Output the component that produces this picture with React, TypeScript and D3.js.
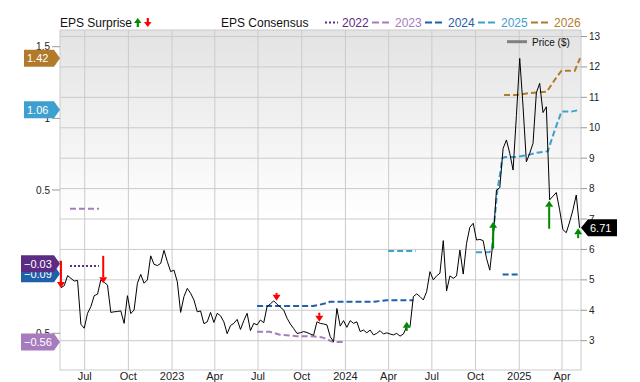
import React from 'react';
import * as d3 from 'd3';

// ---------------- DATA ----------------
const priceStart = '2022-05-12'; // weekly closes
const priceValues = [
  4.74, 4.81, 5.14, 5.05, 4.96, 4.98, 3.54, 3.41, 3.90, 4.12,
  4.48, 4.53, 5.00, 4.92, 4.83, 3.93, 3.95, 3.96, 3.98, 3.57,
  4.48, 3.89, 4.01, 4.89, 5.18, 4.89, 5.00, 5.79, 5.51, 5.47,
  5.54, 5.97, 5.60, 5.27, 5.32, 4.94, 3.93, 4.45, 4.72, 4.56,
  4.34, 3.95, 3.98, 3.56, 3.62, 3.93, 3.60, 3.90, 3.82, 3.62,
  3.23, 3.50, 3.57, 3.70, 3.37, 3.66, 3.90, 3.33, 3.57, 3.52,
  3.68, 3.59, 4.12, 4.21, 4.31, 4.20, 4.10, 4.01, 3.74, 3.55,
  3.40, 3.24, 3.26, 3.30, 3.27, 3.22, 3.18, 3.62, 3.57, 3.55,
  3.52, 3.13, 2.97, 4.06, 3.48, 3.66, 3.44, 3.66, 3.57, 3.62,
  3.30, 3.35, 3.26, 3.35, 3.19, 3.24, 3.33, 3.22, 3.26, 3.22,
  3.19, 3.24, 3.15, 3.22, 3.46, 3.46, 4.45, 4.54, 4.45, 4.34,
  4.61, 5.27, 5.00, 5.13, 5.22, 6.29, 4.64, 5.13, 5.05, 5.13,
  5.98, 5.19, 6.20, 6.73, 6.86, 6.31, 6.33, 6.29, 5.71, 5.32,
  6.30, 7.95, 8.03, 9.32, 9.60, 9.16, 8.61, 10.40, 12.28, 10.69,
  8.88, 9.16, 9.49, 11.15, 11.46, 10.50, 10.69, 7.63, 7.75, 7.87,
  7.30, 6.65, 6.55, 6.90, 7.30, 7.79, 6.71,
];
const lastPrice = 6.71;

const cons2022Dates = ['2022-05-31', '2022-07-31'];
const cons2022Values: (number | null)[] = [-0.03, -0.03];

const cons2023Dates = ['2022-05-31', '2022-07-31', '2022-08-01',
  '2023-06-29', '2023-07-26', '2023-08-16', '2023-09-20', '2023-10-25', '2023-11-15', '2023-11-29', '2023-12-07', '2023-12-30'];
const cons2023Values: (number | null)[] = [0.37, 0.37, null,
  -0.49, -0.49, -0.51, -0.52, -0.52, -0.53, -0.55, -0.56, -0.56];

const cons2024Dates = ['2023-06-29', '2023-10-25', '2023-11-08', '2023-11-22', '2023-11-29', '2024-02-29', '2024-03-28', '2024-05-23', '2024-05-24',
  '2024-11-27', '2024-12-29'];
const cons2024Values: (number | null)[] = [-0.31, -0.31, -0.30, -0.29, -0.28, -0.28, -0.27, -0.27, null,
  -0.09, -0.09];

const cons2025Dates = ['2024-03-31', '2024-05-28', '2024-05-29',
  '2024-10-02', '2024-10-30', '2024-11-04', '2024-11-09', '2024-11-16', '2024-11-23', '2024-11-26', '2024-12-02', '2024-12-23',
  '2025-01-20', '2025-02-07', '2025-03-02', '2025-03-17', '2025-03-31', '2025-04-21', '2025-05-09'];
const cons2025Values: (number | null)[] = [0.075, 0.075, null,
  0.066, 0.066, 0.08, 0.26, 0.50, 0.64, 0.72, 0.73, 0.73,
  0.745, 0.76, 0.77, 0.92, 1.047, 1.047, 1.06];

const cons2026Dates = ['2024-11-30', '2024-12-26', '2025-01-20', '2025-02-28', '2025-03-17', '2025-03-31', '2025-04-28', '2025-05-09'];
const cons2026Values: (number | null)[] = [1.163, 1.163, 1.175, 1.186, 1.27, 1.333, 1.333, 1.42];

const seriesYears = ['2022', '2023', '2024', '2025', '2026'];
const seriesColors = ['#5b2c83', '#a67cbf', '#1f60ab', '#3ea0cf', '#b27b2c'];
const seriesDash = ['2,2', '6,3', '6,3', '6,3', '6,3'];
const seriesDates = [cons2022Dates, cons2023Dates, cons2024Dates, cons2025Dates, cons2026Dates];
const seriesValues = [cons2022Values, cons2023Values, cons2024Values, cons2025Values, cons2026Values];
const seriesLast = [-0.03, -0.56, -0.09, 1.06, 1.42];

const surpriseDates = ['2022-05-12', '2022-08-09', '2023-08-09', '2023-11-07', '2024-05-09', '2024-11-07', '2025-03-05', '2025-05-05'];
const surpriseTips = [4.73, 4.89, 4.31, 3.62, 3.62, 6.91, 7.60, 6.70];
const surpriseSizes = [-0.9, -0.9, -0.26, -0.3, 0.3, 0.88, 0.92, 0.33];

const epsTicks = [-0.5, 0, 0.5, 1, 1.5];
const priceTicks = [3, 4, 5, 6, 7, 8, 9, 10, 11, 12, 13];

// ---------------- CHART ----------------
const W = 640;
const H = 382;
const L = 60, R = 581, T = 30, B = 370;
const FONT = 'Liberation Sans, Arial, Helvetica, sans-serif';

export default function App() {
  const parse = d3.timeParse('%Y-%m-%d');
  const x = d3.scaleTime().domain([parse('2022-05-10')!, parse('2025-05-11')!]).range([L, R]);
  const yP = d3.scaleLinear().domain([3, 13]).range([340.7, 36.5]);
  const yE = d3.scaleLinear().domain([-0.5, 1.5]).range([333.3, 46.7]);

  const start = parse(priceStart)!;
  const priceData = priceValues.map((v, i) => ({ d: d3.timeDay.offset(start, 7 * i), v }));
  const priceLine = d3.line<{ d: Date; v: number }>().x(p => x(p.d)).y(p => yP(p.v));

  const consLine = d3.line<{ d: Date; v: number | null }>()
    .defined(p => p.v !== null)
    .x(p => x(p.d))
    .y(p => yE(p.v as number));

  const xTicks = x.ticks(d3.timeMonth.every(3)!);
  const fmtTick = (d: Date) => (d.getMonth() === 0 ? d3.timeFormat('%Y')(d) : d3.timeFormat('%b')(d));

  // left tags with simple collision avoidance
  const tagH = 17;
  const tags = seriesYears.map((yr, i) => ({ i, v: seriesLast[i], y: yE(seriesLast[i]), color: seriesColors[i] }));
  const sorted = [...tags].sort((a, b) => a.y - b.y);
  for (let k = 1; k < sorted.length; k++) {
    const gap = sorted[k].y - sorted[k - 1].y;
    const minGap = 10;
    if (gap < minGap) {
      const shift = (minGap - gap) / 2;
      sorted[k - 1].y -= shift + 1.5;
      sorted[k].y += shift - 1.5;
    }
  }
  const drawOrder = [2, 4, 3, 1, 0].map(i => tags[i]);
  const fmt2 = d3.format('.2f');

  const tagPath = (x0: number, x1: number, yc: number) =>
    `M${x0},${yc - tagH / 2}H${x1 - 6}L${x1},${yc}L${x1 - 6},${yc + tagH / 2}H${x0}Z`;

  const lastY = yP(lastPrice);

  return (
    <svg width={W} height={H} style={{ position: 'absolute', left: 0, top: 0, background: '#fff' }} fontFamily={FONT}>
      <defs>
        <linearGradient id="bg" x1="0" y1="0" x2="0" y2="1">
          <stop offset="0" stopColor="#e3e3e3" />
          <stop offset="0.55" stopColor="#ffffff" />
          <stop offset="1" stopColor="#ffffff" />
        </linearGradient>
        <clipPath id="plot">
          <rect x={L} y={T} width={R - L} height={B - T} />
        </clipPath>
      </defs>

      <rect x={L} y={T} width={R - L} height={B - T} fill="url(#bg)" />

      {/* grid */}
      {priceTicks.map(t => (
        <line key={'hg' + t} x1={L} x2={R} y1={yP(t)} y2={yP(t)} stroke="#cbcbcb" strokeWidth={1} />
      ))}
      {xTicks.map(t => (
        <line key={'vg' + t.getTime()} x1={x(t)} x2={x(t)} y1={T} y2={B} stroke="#cbcbcb" strokeWidth={1} />
      ))}
      <rect x={L} y={T} width={R - L} height={B - T} fill="none" stroke="#cbcbcb" strokeWidth={1} />

      {/* consensus lines */}
      <g clipPath="url(#plot)">
        {seriesYears.map((yr, i) => {
          const data = seriesDates[i].map((d, j) => ({ d: parse(d)!, v: seriesValues[i][j] }));
          return (
            <path key={'c' + yr} d={consLine(data) || ''} fill="none" stroke={seriesColors[i]}
              strokeWidth={2} strokeDasharray={seriesDash[i]} />
          );
        })}
        {/* price */}
        <path d={priceLine(priceData) || ''} fill="none" stroke="#000" strokeWidth={1} />
      </g>

      {/* surprise arrows */}
      {surpriseDates.map((ds, i) => {
        const xx = x(parse(ds)!);
        const tipY = yP(surpriseTips[i]);
        const baseY = yP(surpriseTips[i] - surpriseSizes[i]);
        const up = surpriseSizes[i] > 0;
        const col = up ? '#008a00' : '#ff0000';
        const hh = 6;
        const hw = 4;
        const neck = up ? tipY + hh : tipY - hh;
        return (
          <g key={'s' + i}>
            <line x1={xx} x2={xx} y1={baseY} y2={neck} stroke={col} strokeWidth={2} />
            <path d={`M${xx - hw},${neck}L${xx + hw},${neck}L${xx},${tipY}Z`} fill={col} />
          </g>
        );
      })}

      {/* right axis */}
      {priceTicks.map(t => (
        <g key={'rt' + t}>
          <line x1={R} x2={R + 6} y1={yP(t)} y2={yP(t)} stroke="#999" />
          <text x={R + 8} y={yP(t)} dy="0.35em" fontSize={10} fill="#222">{t}</text>
        </g>
      ))}

      {/* left axis */}
      {epsTicks.map(t => (
        <g key={'lt' + t}>
          <line x1={L - 8} x2={L} y1={yE(t)} y2={yE(t)} stroke="#999" />
          <text x={L - 10} y={yE(t)} dy="0.35em" fontSize={10} fill="#222" textAnchor="end">{t}</text>
        </g>
      ))}

      {/* bottom axis */}
      {xTicks.map(t => (
        <text key={'xt' + t.getTime()} x={x(t)} y={380} fontSize={11} fill="#222" textAnchor="middle">{fmtTick(t)}</text>
      ))}

      {/* left value tags */}
      {drawOrder.map(tg => {
        const label = fmt2(tg.v);
        const x0 = tg.v < 0 ? 21 : 24;
        return (
          <g key={'tag' + tg.i}>
            <path d={tagPath(x0, L, tg.y)} fill={tg.color} />
            <text x={x0 + 3} y={tg.y} dy="0.35em" fontSize={11} fill="#fff">{label}</text>
          </g>
        );
      })}

      {/* last price tag */}
      <path d={`M${R},${lastY}L${R + 7},${lastY - tagH / 2}H${R + 36}V${lastY + tagH / 2}H${R + 7}Z`} fill="#000" />
      <text x={R + 9} y={lastY} dy="0.35em" fontSize={11} fill="#fff">{fmt2(lastPrice)}</text>

      {/* top legend */}
      <text x={60} y={27} fontSize={12} fill="#111">EPS Surprise</text>
      <g>
        <path d="M134,23L141.5,23L137.75,18Z" fill="#008a00" />
        <rect x={136.7} y={22.5} width={2.2} height={4.5} fill="#008a00" />
        <path d="M144,22L151.5,22L147.75,27Z" fill="#ff0000" />
        <rect x={146.7} y={18} width={2.2} height={4.5} fill="#ff0000" />
      </g>
      <text x={221} y={27} fontSize={12} fill="#111">EPS Consensus</text>
      {seriesYears.map((yr, i) => {
        const lx = [325, 372, 425, 478, 531][i];
        return (
          <g key={'lg' + yr}>
            <line x1={lx} x2={lx + (i === 0 ? 13 : 18)} y1={22.5} y2={22.5} stroke={seriesColors[i]} strokeWidth={2}
              strokeDasharray={i === 0 ? '2,2' : '7,3'} />
            <text x={lx + (i === 0 ? 17 : 23)} y={27} fontSize={12} fill={seriesColors[i]}>{yr}</text>
          </g>
        );
      })}

      {/* price legend */}
      <line x1={507} x2={527} y1={41.7} y2={41.7} stroke="#808080" strokeWidth={3} />
      <text x={532} y={45.5} fontSize={10} fill="#111">Price ($)</text>
    </svg>
  );
}
